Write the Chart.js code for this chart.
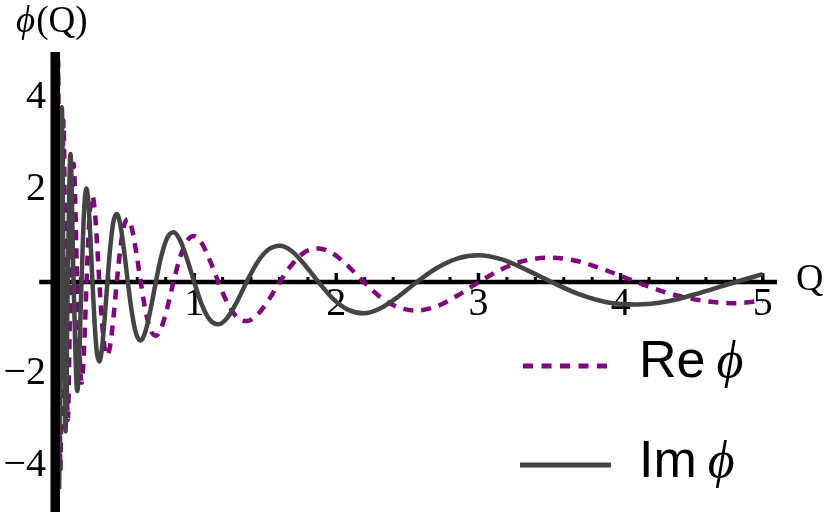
<!DOCTYPE html>
<html><head><meta charset="utf-8">
<script src="https://cdn.jsdelivr.net/npm/chart.js@4.4.1/dist/chart.umd.min.js"></script>
<style>html,body{margin:0;padding:0;background:#fff;}</style>
</head><body>
<canvas id="c" width="825" height="513"></canvas>
<script>
const qValues = [0.0144,0.0168,0.0197,0.0231,0.0270,0.0316,0.0369,0.0432,0.0506,0.0592,0.0692,0.0810,0.0948,0.1109,0.1298,0.1518,0.1776,
  0.2079,0.2191,0.2308,0.2432,0.2563,0.2701,0.2846,0.2999,0.3160,0.3330,0.3509,0.3698,0.3897,0.4106,0.4327,0.4559,0.4805,0.5063,0.5335,
  0.5622,0.5924,0.6243,0.6578,0.6931,0.7304,0.7697,0.8110,0.8546,0.9005,0.9490,1.0000,1.0538,1.1105,1.1701,1.2331,1.2993,1.3691,1.4427,
  1.5203,1.6019,1.6881,1.7788,1.8745,1.9753,2.0815,2.1933,2.3112,2.4354,2.5663,2.7043,2.8497,3.0028,3.1642,3.3343,3.5136,3.7024,3.9014,
  4.1112,4.3321,4.5650,4.8105,5.0];
const reValues = [0,-7.71,0,6.59,0,-5.63,0,4.81,0,-4.11,0,3.51,0,-3.00,0,2.57,0,
  -2.19,-1.85,-1.04,0,0.99,1.67,1.87,1.58,0.89,0,-0.84,-1.42,-1.60,-1.35,-0.76,0,0.72,1.22,1.37,
  1.16,0.65,0,-0.62,-1.04,-1.17,-0.99,-0.56,0,0.53,0.89,1.00,0.84,0.47,0,-0.45,-0.76,-0.85,-0.72,
  -0.41,0,0.38,0.65,0.73,0.62,0.35,0,-0.33,-0.55,-0.62,-0.53,-0.30,0,0.28,0.47,0.53,0.45,0.25,
  0,-0.24,-0.40,-0.46,-0.41];
const imValues = [-8.34,0,7.12,0,-6.09,0,5.20,0,-4.45,0,3.80,0,-3.25,0,2.78,0,-2.37,
  0,1.07,1.80,2.03,1.71,0.96,0,-0.91,-1.54,-1.73,-1.46,-0.82,0,0.78,1.32,1.48,1.25,0.70,0,
  -0.67,-1.13,-1.27,-1.07,-0.60,0,0.57,0.96,1.08,0.91,0.51,0,-0.49,-0.82,-0.92,-0.78,-0.44,0,0.42,
  0.70,0.79,0.67,0.37,0,-0.36,-0.60,-0.68,-0.57,-0.32,0,0.30,0.51,0.58,0.49,0.27,0,-0.26,-0.44,
  -0.49,-0.42,-0.23,0,0.17];
const xTicks = [1,2,3,4,5];
const xTickLabels = ['1','2','3','4','5'];
const xMinorTicks = [0.2,0.4,0.6,0.8,1.2,1.4,1.6,1.8,2.2,2.4,2.6,2.8,3.2,3.4,3.6,3.8,4.2,4.4,4.6,4.8];
const yTicks = [-4,-2,2,4];
const yTickLabels = ['\u22124','\u22122','2','4'];
const seriesNames = ['Re','Im'];
const phi = '\u03D5';
const xAxisTitle = 'Q';
const yAxisTitle = '(Q)';

const PURPLE = '#800080', GRAY = '#444444';
const SERIF = '"Liberation Serif","Times New Roman",serif';
const SANS = '"Liberation Sans",Arial,sans-serif';

const decor = {
  id: 'decor',
  beforeDatasetsDraw(chart) {
    const {ctx, chartArea, scales: {x, y}} = chart;
    const y0 = y.getPixelForValue(0);
    ctx.save();
    ctx.strokeStyle = '#000';
    ctx.lineCap = 'butt';
    ctx.lineWidth = 4.5;
    ctx.beginPath();
    ctx.moveTo(x.getPixelForValue(-0.09), y0);
    ctx.lineTo(chartArea.right, y0);
    ctx.stroke();
    ctx.lineWidth = 3;
    xMinorTicks.forEach(v => {
      const px = x.getPixelForValue(v);
      ctx.beginPath(); ctx.moveTo(px, y0); ctx.lineTo(px, y0 - 5); ctx.stroke();
    });
    ctx.lineWidth = 3.5;
    xTicks.forEach(v => {
      const px = x.getPixelForValue(v);
      ctx.beginPath(); ctx.moveTo(px, y0); ctx.lineTo(px, y0 - 9); ctx.stroke();
    });
    ctx.restore();
  },
  afterDatasetsDraw(chart) {
    const {ctx, chartArea, scales: {x}} = chart;
    const x0 = x.getPixelForValue(0);
    ctx.save();
    ctx.fillStyle = '#000';
    ctx.fillRect(x0 - 1.5, chartArea.top, 9.5, chartArea.bottom - chartArea.top);
    ctx.restore();
  },
  afterDraw(chart) {
    const {ctx} = chart;
    ctx.save();
    ctx.fillStyle = '#000';
    ctx.textBaseline = 'alphabetic';
    ctx.font = 'italic 37px ' + SERIF;
    ctx.fillText(phi, 16, 32);
    const w = ctx.measureText(phi).width;
    ctx.font = '37px ' + SERIF;
    ctx.fillText(yAxisTitle, 16 + w + 1, 32);
    ctx.font = '38px ' + SERIF;
    ctx.fillText(xAxisTitle, 796, 290);
    const rows = [{y: 366, base: 377, color: PURPLE, dash: [10, 8.5], x1: 523, x2: 607},
                  {y: 465, base: 477, color: GRAY, dash: [], x1: 520, x2: 611}];
    rows.forEach((r, i) => {
      ctx.strokeStyle = r.color;
      ctx.lineWidth = 5;
      ctx.setLineDash(r.dash);
      ctx.beginPath(); ctx.moveTo(r.x1, r.y); ctx.lineTo(r.x2, r.y); ctx.stroke();
      ctx.setLineDash([]);
      ctx.font = '52px ' + SANS;
      ctx.fillText(seriesNames[i], 639, r.base);
      const tw = ctx.measureText(seriesNames[i]).width;
      ctx.font = 'italic 52px ' + SERIF;
      ctx.fillText(phi, 639 + tw + 11, r.base);
    });
    ctx.restore();
  }
};

const tickFont = {family: SERIF, size: 40, lineHeight: 1};

new Chart(document.getElementById('c'), {
  type: 'line',
  data: {
    datasets: [
      {label: seriesNames[0] + ' ' + phi, data: qValues.map((q, i) => ({x: q, y: reValues[i]})),
       borderColor: PURPLE, borderWidth: 4.5, borderDash: [10, 8], borderCapStyle: 'butt',
       pointRadius: 0, cubicInterpolationMode: 'monotone', fill: false, clip: 0, order: 1},
      {label: seriesNames[1] + ' ' + phi, data: qValues.map((q, i) => ({x: q, y: imValues[i]})),
       borderColor: GRAY, borderWidth: 4.5, borderCapStyle: 'butt',
       pointRadius: 0, cubicInterpolationMode: 'monotone', fill: false, clip: 0, order: 0}
    ]
  },
  options: {
    responsive: false, animation: false, devicePixelRatio: 1,
    layout: {padding: {left: 0, right: 48, top: 52, bottom: 1}},
    plugins: {legend: {display: false}, tooltip: {enabled: false}},
    scales: {
      x: {
        type: 'linear', min: 0, max: 5.1, position: {y: 0},
        grid: {display: false, drawTicks: false}, border: {display: false},
        afterBuildTicks: s => { s.ticks = xTicks.map(v => ({value: v})); },
        afterFit: s => { s.paddingLeft = 0; s.paddingRight = 0; s.paddingTop = 0; s.paddingBottom = 0; },
        ticks: {font: tickFont, color: '#000', padding: 2, maxRotation: 0, autoSkip: false,
                callback: v => xTickLabels[xTicks.indexOf(v)]}
      },
      y: {
        type: 'linear', min: -5, max: 5, position: 'left',
        grid: {display: false, drawTicks: false}, border: {display: false},
        afterBuildTicks: s => { s.ticks = yTicks.map(v => ({value: v})); },
        afterFit: s => { s.width = 52; s.paddingTop = 0; s.paddingBottom = 0; },
        ticks: {font: tickFont, color: '#000', padding: 6, labelOffset: -1, autoSkip: false,
                callback: v => yTickLabels[yTicks.indexOf(v)]}
      }
    }
  },
  plugins: [decor]
});
</script>
</body></html>
